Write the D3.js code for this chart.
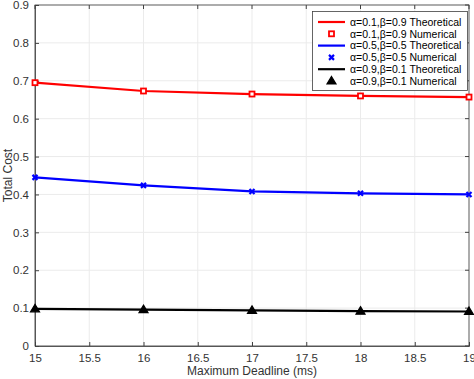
<!DOCTYPE html>
<html><head><meta charset="utf-8">
<script src="https://cdn.jsdelivr.net/npm/d3@7"></script>
<style>body{margin:0;background:#fff}svg{display:block}</style>
</head><body>
<script>
const deadlines = [15, 16, 17, 18, 19];
const theo1 = [0.695, 0.673, 0.665, 0.660, 0.657];
const num1  = [0.695, 0.673, 0.665, 0.660, 0.657];
const theo2 = [0.445, 0.424, 0.408, 0.403, 0.400];
const num2  = [0.445, 0.424, 0.408, 0.403, 0.400];
const theo3 = [0.098, 0.096, 0.094, 0.092, 0.091];
const num3  = [0.098, 0.096, 0.094, 0.092, 0.091];
const xTicks = [15, 15.5, 16, 16.5, 17, 17.5, 18, 18.5, 19];
const yTicks = [0, 0.1, 0.2, 0.3, 0.4, 0.5, 0.6, 0.7, 0.8, 0.9];
const labels = ["\u03b1=0.1,\u03b2=0.9","\u03b1=0.5,\u03b2=0.5","\u03b1=0.9,\u03b2=0.1"];

const W = 474, H = 379;
const m = {l:35, r:5, t:5, b:33};
const svg = d3.select("body").append("svg").attr("width", W).attr("height", H)
  .style("font-family", "Liberation Sans, Arial, sans-serif");
const x = d3.scaleLinear().domain([15, 19]).range([m.l, W - m.r]);
const y = d3.scaleLinear().domain([0, 0.9]).range([H - m.b, m.t]);

// grid
svg.append("g").selectAll("line").data(xTicks).join("line")
  .attr("x1", d => x(d)).attr("x2", d => x(d)).attr("y1", y(0)).attr("y2", y(0.9))
  .attr("stroke", "#ebebeb").attr("stroke-width", 1);
svg.append("g").selectAll("line").data(yTicks).join("line")
  .attr("y1", d => y(d)).attr("y2", d => y(d)).attr("x1", x(15)).attr("x2", x(19))
  .attr("stroke", "#ebebeb").attr("stroke-width", 1);

// box
svg.append("rect").attr("x", x(15)).attr("y", y(0.9)).attr("width", x(19) - x(15)).attr("height", y(0) - y(0.9))
  .attr("fill", "none").attr("stroke", "#404040").attr("stroke-width", 0.8);

const xAxis = svg.append("g").attr("transform", `translate(0,${y(0)})`)
  .call(d3.axisBottom(x).tickValues(xTicks).tickSize(-4).tickPadding(8).tickFormat(d3.format("")));
const yAxis = svg.append("g").attr("transform", `translate(${x(15)},0)`)
  .call(d3.axisLeft(y).tickValues(yTicks).tickSize(-4).tickPadding(6).tickFormat(d => d === 0 ? "0" : d3.format(".1f")(d)));
[xAxis, yAxis].forEach(a => {
  a.select(".domain").attr("stroke", "#404040").attr("stroke-width", 0.8);
  a.selectAll(".tick line").attr("stroke", "#404040");
  a.selectAll("text").attr("fill", "#333").style("font-size", "11.5px").style("font-family", "Liberation Sans, Arial, sans-serif");
});
// right/top ticks
svg.append("g").selectAll("line").data(yTicks).join("line")
  .attr("x1", x(19)).attr("x2", x(19) - 4).attr("y1", d => y(d)).attr("y2", d => y(d)).attr("stroke", "#404040");
svg.append("g").selectAll("line").data(xTicks).join("line")
  .attr("y1", y(0.9)).attr("y2", y(0.9) + 4).attr("x1", d => x(d)).attr("x2", d => x(d)).attr("stroke", "#404040");

svg.append("text").attr("x", (x(15) + x(19)) / 2).attr("y", H - 4).attr("text-anchor", "middle")
  .style("font-size", "12px").attr("fill", "#333").text("Maximum Deadline (ms)");
svg.append("text").attr("transform", `translate(12,${(y(0) + y(0.9)) / 2}) rotate(-90)`).attr("text-anchor", "middle")
  .style("font-size", "12px").attr("fill", "#333").text("Total Cost");

const line = d3.line().x((d, i) => x(deadlines[i])).y(d => y(d));
const series = [
  {t: theo1, n: num1, c: "#ff0000", mk: "square"},
  {t: theo2, n: num2, c: "#0000ff", mk: "x"},
  {t: theo3, n: num3, c: "#000000", mk: "tri"}
];
function marker(g, type, c, cx, cy) {
  if (type === "square") {
    g.append("rect").attr("x", cx - 2.5).attr("y", cy - 2.5).attr("width", 5).attr("height", 5)
      .attr("fill", "#fff").attr("stroke", c).attr("stroke-width", 1.8);
  } else if (type === "x") {
    g.append("path").attr("d", `M${cx-2.5},${cy-2.5}L${cx+2.5},${cy+2.5}M${cx-2.5},${cy+2.5}L${cx+2.5},${cy-2.5}`)
      .attr("stroke", c).attr("stroke-width", 2.2);
  } else {
    g.append("path").attr("d", `M${cx},${cy-4.5}L${cx+4.5},${cy+3}L${cx-4.5},${cy+3}Z`)
      .attr("fill", "#000").attr("stroke", c).attr("stroke-width", 1.2);
  }
}
series.forEach(s => {
  svg.append("path").datum(s.t).attr("d", line).attr("fill", "none").attr("stroke", s.c).attr("stroke-width", 2.2);
  const g = svg.append("g");
  s.n.forEach((v, i) => marker(g, s.mk, s.c, x(deadlines[i]), y(v)));
});

// legend
const lg = svg.append("g");
lg.append("rect").attr("x", 312.5).attr("y", 11.5).attr("width", 155).attr("height", 79)
  .attr("fill", "#fff").attr("stroke", "#404040").attr("stroke-width", 0.8);
const rows = [];
series.forEach((s, k) => {
  rows.push({type: "line", c: s.c, txt: labels[k] + " Theoretical", mk: s.mk});
  rows.push({type: "mk", c: s.c, txt: labels[k] + " Numerical", mk: s.mk});
});
rows.forEach((r, i) => {
  const yy = 22 + i * 11.8;
  if (r.type === "line") {
    lg.append("line").attr("x1", 318).attr("x2", 345).attr("y1", yy).attr("y2", yy).attr("stroke", r.c).attr("stroke-width", 2.2);
  } else {
    marker(lg, r.mk, r.c, 331.5, yy);
  }
  lg.append("text").attr("x", 350).attr("y", yy + 3.8).style("font-size", "10.5px").attr("fill", "#000").text(r.txt);
});
</script>
</body></html>
